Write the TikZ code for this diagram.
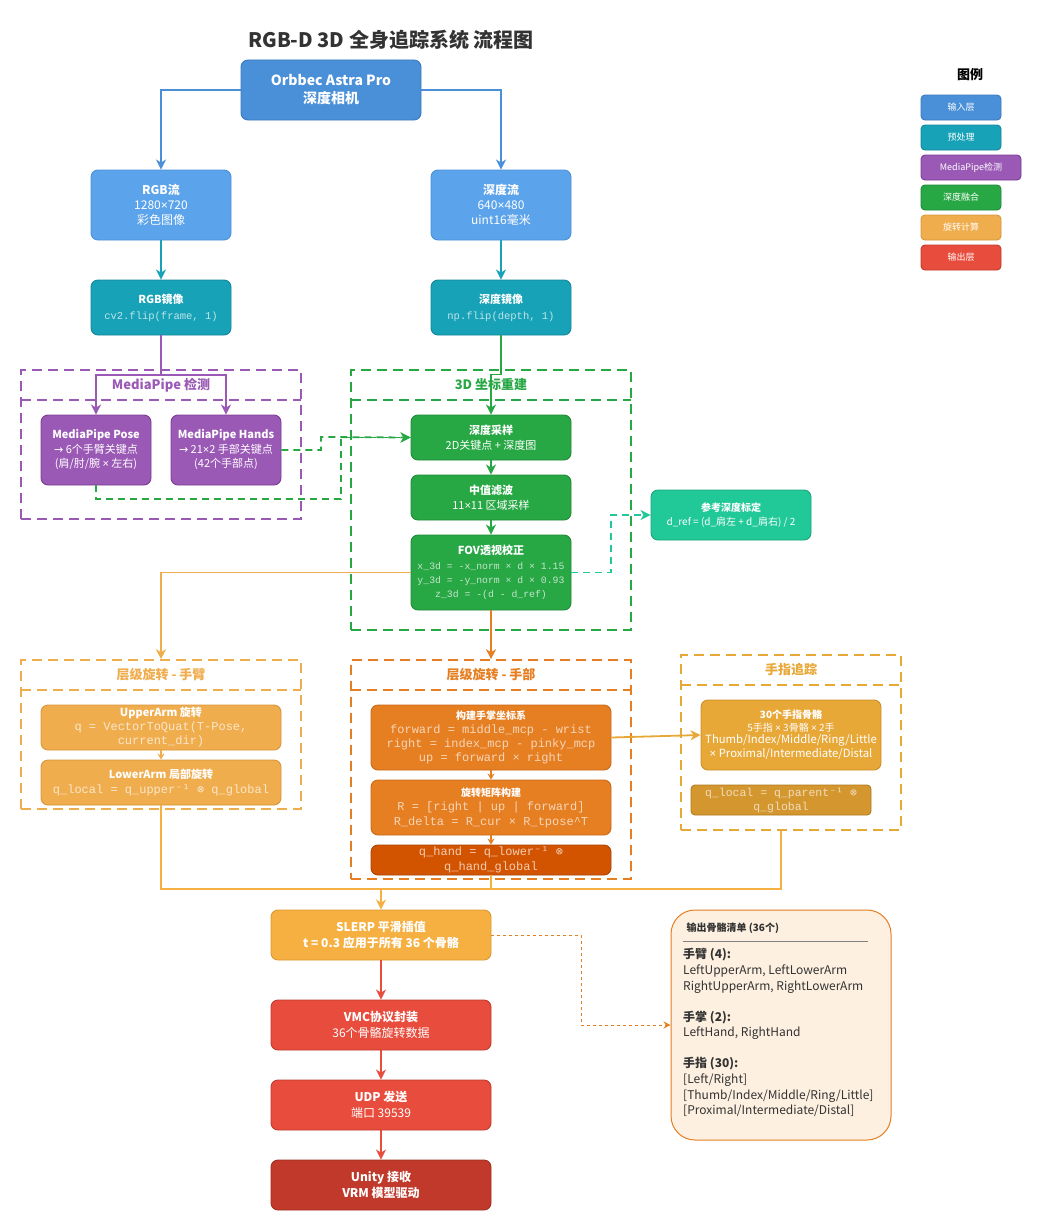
\documentclass[tikz,border=0pt]{standalone}
\usepackage{fontspec}
\setmainfont{Noto Sans CJK SC}
\setmonofont{Liberation Mono}
\newfontfamily\djm{DejaVu Sans Mono}
\newfontfamily\lib{Liberation Sans}
\newfontfamily\djs{DejaVu Sans}
\newcommand\X{{\lib ×}}
\newcommand\RA{{\djs →}}
\usetikzlibrary{arrows.meta}
\definecolor{inblue}{HTML}{4A90D9}
\definecolor{inblueD}{HTML}{3A78BF}
\definecolor{sblue}{HTML}{5BA3EA}
\definecolor{sblueD}{HTML}{4A90D9}
\definecolor{tealc}{HTML}{17A2B8}
\definecolor{tealD}{HTML}{12879A}
\definecolor{purp}{HTML}{9B59B6}
\definecolor{purpD}{HTML}{7D3C98}
\definecolor{grn}{HTML}{28A745}
\definecolor{grnD}{HTML}{1E8A38}
\definecolor{mint}{HTML}{20C997}
\definecolor{mintD}{HTML}{1AA57C}
\definecolor{orL}{HTML}{F0AD4E}
\definecolor{orLD}{HTML}{D9963A}
\definecolor{orM}{HTML}{E67E22}
\definecolor{orMD}{HTML}{C96A17}
\definecolor{orDk}{HTML}{D35400}
\definecolor{orDkD}{HTML}{A84300}
\definecolor{fingc}{HTML}{E8A838}
\definecolor{fingD}{HTML}{C98E26}
\definecolor{fqlc}{HTML}{D4962E}
\definecolor{fqlD}{HTML}{B07A1E}
\definecolor{slc}{HTML}{F5B041}
\definecolor{slcD}{HTML}{D9982E}
\definecolor{redc}{HTML}{E74C3C}
\definecolor{redD}{HTML}{C0392B}
\definecolor{dred}{HTML}{C0392B}
\definecolor{dredD}{HTML}{A0301F}
\definecolor{peach}{HTML}{FDF0E1}
\definecolor{txt}{HTML}{333333}
\colorlet{ctl}{white!72!tealc}
\colorlet{cgr}{white!72!grn}
\colorlet{col}{white!70!orL}
\colorlet{com}{white!68!orM}
\colorlet{cod}{white!70!orDk}
\colorlet{cfq}{white!68!fqlc}
\newcommand\fs[2]{\fontsize{#1}{#2}\selectfont}
\newcommand\code[3]{{\ttfamily\fontsize{#2}{#2}\selectfont\color{#1}#3}}
\newcommand\bx[7]{\node[box,#6,minimum width={#4-#2},minimum height={#5-#3}] (#1) at ({(#2+#4)/2},{(#3+#5)/2}) {#7};}
\newcommand\grp[6]{\node[grpbox,draw=#6,minimum width={#4-#2},minimum height={#5-#3}] (#1) at ({(#2+#4)/2},{(#3+#5)/2}) {};}
\begin{document}
\begin{tikzpicture}[x=1pt,y=-1pt,
  box/.style={draw,rounded corners=7pt,line width=0.9pt,align=center,text=white,inner sep=0pt},
  grpbox/.style={rectangle,line width=1.6pt,dash pattern=on 10pt off 6pt,inner sep=0pt},
  grpdash/.style={line width=1.6pt,dash pattern=on 10pt off 6pt},
  tip/.style={-{Stealth[length=10pt,width=10pt,inset=3pt]}},
  conn/.style={line width=1.8pt,tip},
  plain/.style={line width=1.8pt},
  dconn/.style={line width=1.8pt,dash pattern=on 7pt off 5pt,tip},
  gtitle/.style={font=\bfseries\fs{13}{15}},
]
\useasboundingbox[fill=white] (0,0) rectangle (1042,1231);

% title
\node[font=\bfseries\fs{20}{24},text=txt] (title) at (391,40) {RGB-D 3D 全身追踪系统 流程图};

% input
\bx{cam}{241}{60}{421}{120}{fill=inblue,draw=inblueD,font=\bfseries\fs{14}{18}}{Orbbec Astra Pro\\深度相机}
\bx{rgb}{91}{170}{231}{240}{fill=sblue,draw=sblueD,font=\fs{12}{15}}{\textbf{RGB流}\\1280\X720\\彩色图像}
\bx{dep}{431}{170}{571}{240}{fill=sblue,draw=sblueD,font=\fs{12}{15}}{\textbf{深度流}\\640\X480\\uint16毫米}
\bx{rgbm}{91}{280}{231}{335}{fill=tealc,draw=tealD,font=\fs{11}{16}}{\textbf{RGB镜像}\\\code{ctl}{10.5}{cv2.flip(frame, 1)}}
\bx{depm}{431}{280}{571}{335}{fill=tealc,draw=tealD,font=\fs{11}{16}}{\textbf{深度镜像}\\\code{ctl}{10.5}{np.flip(depth, 1)}}

% MediaPipe group
\grp{mpg}{21}{370}{301}{519}{purp}
\draw[grpdash,purp] (21,400) -- (301,400);
\node[gtitle,text=purp] (mpt) at (161,385) {MediaPipe 检测};
\bx{pose}{41}{415}{151}{485}{fill=purp,draw=purpD,font=\fs{11}{14.5}}{\textbf{MediaPipe Pose}\\\RA{} 6个手臂关键点\\(肩/肘/腕 \X{} 左右)}
\bx{hands}{171}{415}{281}{485}{fill=purp,draw=purpD,font=\fs{11}{14.5}}{\textbf{MediaPipe Hands}\\\RA{} 21\X2 手部关键点\\(42个手部点)}

% 3D group
\grp{g3d}{351}{370}{631}{630}{grn}
\draw[grpdash,grn] (351,400) -- (631,400);
\node[gtitle,text=grn] (g3dt) at (491,385) {3D 坐标重建};
\bx{samp}{411}{415}{571}{460}{fill=grn,draw=grnD,font=\fs{11}{14.5}}{\textbf{深度采样}\\2D关键点 + 深度图}
\bx{filt}{411}{475}{571}{520}{fill=grn,draw=grnD,font=\fs{11}{14.5}}{\textbf{中值滤波}\\11\X11 区域采样}
\bx{fov}{411}{535}{571}{610}{fill=grn,draw=grnD,font=\fs{11}{14.3}}{\textbf{FOV透视校正}\\\code{cgr}{9.8}{x\_3d = -x\_norm × d × 1.15}\\\code{cgr}{9.8}{y\_3d = -y\_norm × d × 0.93}\\\code{cgr}{9.8}{z\_3d = -(d - d\_ref)}}
\bx{ref}{651}{490}{811}{540}{fill=mint,draw=mintD,font=\fs{10}{13.5}}{\textbf{参考深度标定}\\d\_ref = (d\_肩左 + d\_肩右) / 2}

% arm group
\grp{armg}{21}{660}{301}{809}{orL}
\draw[grpdash,orL] (21,690) -- (301,690);
\node[gtitle,text=orL] (armt) at (161,675) {层级旋转 - 手臂};
\bx{upper}{41}{705}{281}{750}{fill=orL,draw=orLD,font=\fs{11}{14}}{\textbf{UpperArm 旋转}\\\code{col}{12}{q = VectorToQuat(T-Pose,}\\\code{col}{12}{current\_dir)}}
\bx{lower}{41}{760}{281}{805}{fill=orL,draw=orLD,font=\fs{11}{15}}{\textbf{LowerArm 局部旋转}\\\code{col}{12}{q\_local = q\_upper{\djm ⁻¹} {\djm ⊗} q\_global}}

% hand group
\grp{handg}{351}{660}{631}{879}{orM}
\draw[grpdash,orM] (351,690) -- (631,690);
\node[gtitle,text=orM] (handt) at (491,675) {层级旋转 - 手部};
\bx{palm}{371}{705}{611}{770}{fill=orM,draw=orMD,font=\fs{10}{14}}{\textbf{构建手掌坐标系}\\\code{com}{12}{forward = middle\_mcp - wrist}\\\code{com}{12}{right = index\_mcp - pinky\_mcp}\\\code{com}{12}{up = forward × right}}
\bx{rotm}{371}{780}{611}{835}{fill=orM,draw=orMD,font=\fs{10}{14.5}}{\textbf{旋转矩阵构建}\\\code{com}{12}{R = [right | up | forward]}\\\code{com}{12}{R\_delta = R\_cur × R\_tpose\textasciicircum T}}
\bx{qhand}{371}{845}{611}{875}{fill=orDk,draw=orDkD,font=\fs{12}{14.5}}{\code{cod}{12}{q\_hand = q\_lower{\djm ⁻¹} {\djm ⊗}}\\\code{cod}{12}{q\_hand\_global}}

% finger group
\grp{fingg}{681}{655}{901}{830}{fingc}
\draw[grpdash,fingc] (681,685) -- (901,685);
\node[gtitle,text=fingc] (fingt) at (791,670) {手指追踪};
\bx{fing}{701}{700}{881}{770}{fill=fingc,draw=fingD,font=\fs{10}{12.5}}{\textbf{30个手指骨骼}\\5手指 \X{} 3骨骼 \X{} 2手\\{\fs{11.3}{14}Thumb/Index/Middle/Ring/Little}\\[1.5pt]{\fs{11.3}{14}\X{} Proximal/Intermediate/Distal}}
\bx{fql}{691}{785}{871}{815}{fill=fqlc,draw=fqlD,rounded corners=4pt,font=\fs{11}{14}}{\code{cfq}{11.5}{q\_local = q\_parent{\djm ⁻¹} {\djm ⊗}}\\\code{cfq}{11.5}{q\_global}}

% output chain
\bx{slerp}{271}{910}{491}{960}{fill=slc,draw=slcD,font=\bfseries\fs{12}{16}}{SLERP 平滑插值\\t = 0.3 应用于所有 36 个骨骼}
\bx{vmc}{271}{1000}{491}{1050}{fill=redc,draw=redD,font=\fs{12}{16}}{\textbf{VMC协议封装}\\36个骨骼旋转数据}
\bx{udp}{271}{1080}{491}{1130}{fill=redc,draw=redD,font=\fs{12}{16}}{\textbf{UDP 发送}\\端口 39539}
\bx{unity}{271}{1160}{491}{1210}{fill=dred,draw=dredD,font=\bfseries\fs{12}{16}}{Unity 接收\\VRM 模型驱动}

% output list
\node[draw=orM,fill=peach,line width=1pt,rounded corners=24pt,minimum width=220,minimum height=230] (outl) at (781,1025) {};
\node[anchor=west,font=\bfseries\fs{10}{12},text=txt] (ol0) at (683,928) {输出骨骼清单 (36个)};
\draw[gray,line width=0.8pt] (683,941) -- (868,941);
\begin{scope}[every node/.style={anchor=west,font=\fs{12}{14},text=txt,inner sep=0pt}]
\node[font=\bfseries\fs{12}{14}] (ol1) at (683,955) {手臂 (4):};
\node (ol2) at (683,971) {LeftUpperArm, LeftLowerArm};
\node (ol3) at (683,987) {RightUpperArm, RightLowerArm};
\node[font=\bfseries\fs{12}{14}] (ol4) at (683,1018) {手掌 (2):};
\node (ol5) at (683,1033) {LeftHand, RightHand};
\node[font=\bfseries\fs{12}{14}] (ol6) at (683,1064) {手指 (30):};
\node (ol7) at (683,1080) {[Left/Right]};
\node (ol8) at (683,1096) {[Thumb/Index/Middle/Ring/Little]};
\node (ol9) at (683,1111) {[Proximal/Intermediate/Distal]};
\end{scope}

% legend
\node[font=\bfseries\fs{13}{15},text=black] (lgt) at (970,75) {图例};
\bx{lg1}{921}{95}{1001}{120}{fill=inblue,draw=inblueD,rounded corners=4pt,font=\fs{9}{11}}{输入层}
\bx{lg2}{921}{125}{1001}{150}{fill=tealc,draw=tealD,rounded corners=4pt,font=\fs{9}{11}}{预处理}
\bx{lg3}{921}{155}{1021}{180}{fill=purp,draw=purpD,rounded corners=4pt,font=\fs{9}{11}}{MediaPipe检测}
\bx{lg4}{921}{185}{1001}{210}{fill=grn,draw=grnD,rounded corners=4pt,font=\fs{9}{11}}{深度融合}
\bx{lg5}{921}{215}{1001}{240}{fill=orL,draw=orLD,rounded corners=4pt,font=\fs{9}{11}}{旋转计算}
\bx{lg6}{921}{245}{1001}{270}{fill=redc,draw=redD,rounded corners=4pt,font=\fs{9}{11}}{输出层}

% connectors
\draw[conn,inblue] (cam.west) -| (rgb.north);
\draw[conn,inblue] (cam.east) -| (dep.north);
\draw[conn,tealc] (rgb) -- (rgbm);
\draw[conn,tealc] (dep) -- (depm);
\coordinate (mpj) at (161,375);
\draw[plain,purp] (rgbm.south) -- (mpj);
\draw[conn,purp] (mpj) -| (pose.north);
\draw[conn,purp] (mpj) -| (hands.north);
\draw[conn,grn] (depm.south) -- ++(0,39) -| (samp.north);
\draw[dconn,grn] (hands.east) -| (321,437) -- (samp.west);
\draw[dconn,grn] (pose.south) |- (341,499) |- (samp.west);
\draw[conn,grn] (samp) -- (filt);
\draw[conn,grn] (filt) -- (fov);
\draw[dconn,mint] (fov.east) -| (611,515) -- (ref.west);
\draw[conn,orL] (fov.west) -| (armg.north);
\draw[conn,orM] (fov.south) -- (handg.north);
\draw[line width=1.2pt,orL,-{Stealth[length=6pt,width=7pt]}] (upper) -- (lower);
\draw[line width=1.2pt,orM,-{Stealth[length=6pt,width=7pt]}] (palm) -- (rotm);
\draw[line width=1.2pt,orM,-{Stealth[length=6pt,width=7pt]}] (rotm) -- (qhand);
\draw[conn,fingc] (palm.east) -- (fing.west);
\coordinate (mg) at (381,889);
\draw[plain,slc] (lower.south) |- (mg);
\draw[plain,slc] ([xshift=-10pt]fingg.south) |- (mg);
\draw[plain,slc] (qhand.south) -- (qhand.south |- mg);
\draw[conn,slc] (mg) -- (slerp.north);
\draw[orM,line width=0.9pt,dash pattern=on 3pt off 3pt,-{Stealth[length=7pt,width=7pt]}] (slerp.east) -| (581,1025) -- (outl.west);
\draw[conn,redc] (slerp) -- (vmc);
\draw[conn,redc] (vmc) -- (udp);
\draw[conn,redc] (udp) -- (unity);
\end{tikzpicture}
\end{document}
